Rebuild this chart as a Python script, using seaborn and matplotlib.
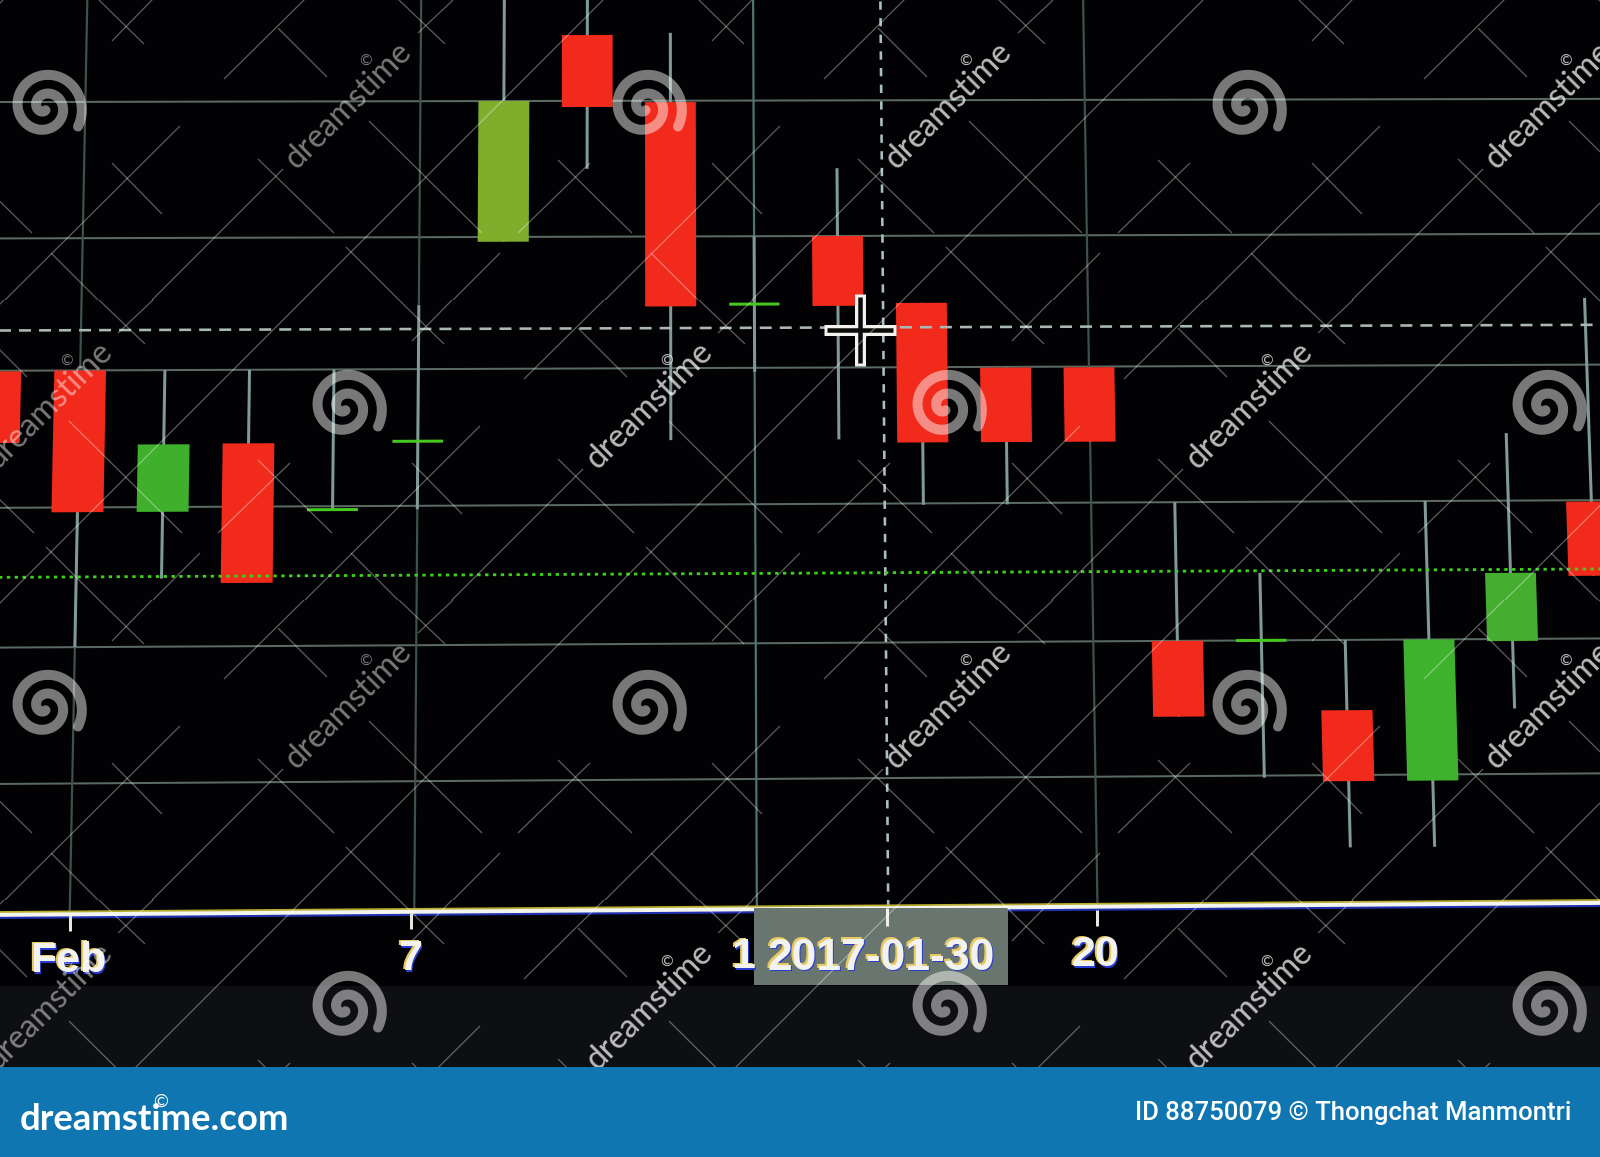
import numpy as np
import pandas as pd
import seaborn as sns
import matplotlib
matplotlib.use("Agg")
import matplotlib.pyplot as plt
from matplotlib.patches import Rectangle
from matplotlib.transforms import Transform

W, H = 1600, 1157

# ---- chart data (session index, price in half-grid units) ----
sessions = list(range(20))
opens  = [6.05, 6.06, 3.98, 4.98, 4, 5, 7.93, 10.97, 9.98, 7, 8, 7.01, 6.05, 6.05, 2, 2, 0.96, -0.09, 1.97, 4.03]
closes = [5, 3.98, 4.97, 2.93, 4, 5, 10, 9.91, 6.97, 7, 6.97, 4.95, 4.95, 4.95, 0.88, 2, -0.09, 2, 2.98, 2.93]
highs  = [6.05, 6.06, 6.06, 6.06, 6.06, 7, 12, 12, 11, 8, 9, 7.01, 6.05, 6.05, 4.05, 3, 2, 4.05, 5.05, 7.05]
lows   = [5, 2, 3, 2.93, 4, 4, 7.93, 9, 5, 6, 5, 4.03, 4.03, 4.95, 0.88, -0.03, -1.07, -1.07, 0.97, 2.93]
up_colors = {2: "#3fb02c", 6: "#7fae2c", 17: "#3eb22c", 18: "#45ad30"}

grid_prices = [0, 2, 4.05, 6.06, 8, 10]
grid_sessions = [1, 5, 9, 13]
axis_price = -1.92
top_price = 11.5
cross_price = 6.65
last_price = 3.03
cross_session = 10.54

tick_labels = ["Feb", "7", "1", "20"]
tick_label_px = [(68, 961), (410, 959), (743, 957), (1095, 955)]
cursor_date = "2017-01-30"
site_text = "dreamstime.com"
credit_text = "ID 88750079 \u00a9 Thongchat Manmontri"


class Keystone(Transform):
    """Slight camera perspective of the photographed screen (display pixels)."""
    input_dims = output_dims = 2
    is_separable = False
    has_inverse = False

    def transform_non_affine(self, values):
        values = np.asarray(values, float)
        x, y = values[:, 0], values[:, 1]
        top = H - y
        u = x / W
        x2 = x + 0.0317 * (x - 632) * (top - 457) / 913 + 22 * u * (1 - u)
        y2 = top - u * (2 + 10 * top / 900)
        return np.column_stack([x2, H - y2])


sns.set_theme(style="dark", rc={"axes.facecolor": "#020204", "figure.facecolor": "#020204"})
fig = plt.figure(figsize=(W / 100, H / 100), dpi=100)
ax = fig.add_axes([0, 0, 1, 1])
ax.set_xlim(0.0774, 19.125)
ax.set_ylim(-5.469, 11.496)
ax.set_axis_off()
warp = ax.transData + Keystone()
PX = 0.72


def segs(pairs):
    rows = []
    for i, (x0, y0, x1, y1) in enumerate(pairs):
        rows += [dict(id=i, x=x0, y=y0), dict(id=i, x=x1, y=y1)]
    return pd.DataFrame(rows)


def draw(pairs, color, lw, z, **kw):
    sns.lineplot(data=segs(pairs), x="x", y="y", units="id", estimator=None, sort=False,
                 color=color, lw=lw * PX, ax=ax, legend=False, transform=warp, zorder=z,
                 solid_capstyle="butt", **kw)


# grid
draw([(-1, p, 21, p) for p in grid_prices], "#5a6a62", 2.0, 1)
draw([(s, axis_price, s, top_price + 1) for s in grid_sessions if s != 9], "#40504a", 2.2, 1)
draw([(9, axis_price, 9, top_price + 1)], "#4f7572", 2.2, 1)

# wicks
wick_pairs = [(s, lo, s, hi) for s, lo, hi in zip(sessions, lows, highs)]
draw(wick_pairs, "#7f9a98", 3.0, 2)

# bodies and dojis
doji_pairs = []
for s, o, c in zip(sessions, opens, closes):
    if o == c:
        doji_pairs.append((s - 0.3, o, s + 0.3, c))
        continue
    col = up_colors.get(s, "#3fb02c") if c > o else "#f12a1b"
    bars = ax.bar(s, abs(c - o), bottom=min(o, c), width=0.61, color=col, linewidth=0, zorder=3)
    for b in bars:
        b.set_transform(warp)
draw(doji_pairs, "#45c81f", 3.0, 3)

# crosshair lines and last-price line
for pairs, col, lw, dash in [
    ([(-1, cross_price, 21, cross_price)], "#a9b8b0", 2.6, (4.6, 3.1)),
    ([(cross_session, axis_price, cross_session, top_price + 1)], "#a9c0c0", 2.6, (3.2, 3.2)),
    ([(-1, last_price, 21, last_price)], "#3cd21a", 2.8, (1.2, 1.6)),
]:
    lines_before = len(ax.lines)
    draw(pairs, col, lw, 4)
    for ln in ax.lines[lines_before:]:
        ln.set_linestyle((0, dash))

# axis baseline with the colour fringes of the screen
for off, col, lw in [(-2.6, "#b8ac30", 2.4), (2.8, "#2030b0", 2.6), (0, "#f4f4ee", 4.0)]:
    draw([(-1, axis_price - off / 68.2, 21, axis_price - off / 68.2)], col, lw, 5)

ax.set_xlim(0.0774, 19.125)
ax.set_ylim(-5.469, 11.496)
ax.set_xlabel("")
ax.set_ylabel("")

# ---- overlay in image pixels: labels, watermark, bottom strip ----
ov = fig.add_axes([0, 0, 1, 1], facecolor="none")
ov.set_xlim(0, W)
ov.set_ylim(H, 0)
ov.set_axis_off()

ov.add_patch(Rectangle((0, 986), W, 81, color="#0e0f13", lw=0, zorder=0))

# axis tick marks
for x, y0, y1 in [(70, 915, 931), (411, 913, 929), (887, 910, 926), (1097, 910, 926)]:
    ov.plot([x, x], [y0, y1], color="#e8e8e0", lw=3 * PX, zorder=6, solid_capstyle="butt")

BOLD = dict(family="Liberation Sans", fontweight="bold", ha="center", va="center", zorder=8)


def screen_text(x, y, s, size):
    ov.text(x + 1.5, y + 1.5, s, color="#2a3cd0", fontsize=size, **BOLD)
    ov.text(x - 1.5, y - 1, s, color="#e8c860", fontsize=size, **BOLD)
    ov.text(x, y, s, color="#f2f2ee", fontsize=size, **BOLD)


ov.add_patch(Rectangle((754, 908), 254, 77, color="#69766f", lw=0, zorder=6.5))
ov.plot([887, 887], [908, 926], color="#f0f0ea", lw=3 * PX, zorder=7, solid_capstyle="butt")
for (x, y), s in zip(tick_label_px, tick_labels):
    screen_text(x, y, s, 31)
screen_text(881, 958, cursor_date, 32)

# mouse cursor
cx, cy = 860, 330
for (x0, y0, x1, y1) in [(cx - 36, cy, cx + 36, cy), (cx, cy - 36, cx, cy + 36)]:
    ov.plot([x0, x1], [y0, y1], color="#f2f2ee", lw=11 * PX, zorder=7, solid_capstyle="butt")
for (x0, y0, x1, y1) in [(cx - 33, cy, cx + 33, cy), (cx, cy - 33, cx, cy + 33)]:
    ov.plot([x0, x1], [y0, y1], color="#0a0a0a", lw=4.5 * PX, zorder=7.1, solid_capstyle="butt")

# watermark: thin crossing strokes repeated on a lattice
strokes = [(112, 41, 152, 0), (99, 0, 144, 44), (224, 79, 304, 0), (278, 28, 327, 77),
           (418, 33, 453, 0), (399, 0, 445, 44), (603, 0, 303, 300), (180, 126, 5, 300),
           (112, 163, 162, 214), (283, 169, 152, 300), (258, 159, 334, 233), (369, 121, 482, 233),
           (51, 253, 98, 300), (346, 247, 399, 300), (558, 160, 632, 233), (590, 163, 518, 233),
           (500, 253, 453, 300)]
for row in range(-1, 4):
    for col in range(-1, 4):
        dx, dy = 600 * col + (300 if row % 2 else 0), 300 * row
        for (x0, y0, x1, y1) in strokes:
            ov.plot([x0 + dx, x1 + dx], [y0 + dy, y1 + dy], color="white", alpha=0.36,
                    lw=0.9, zorder=9, solid_capstyle="butt")

# watermark: spiral emblem and rotated name
turn = np.linspace(-0.17 * np.pi, 3.55 * np.pi, 260)
radius = 27.3 - (turn - np.pi) * 3.0
for row, y in enumerate([104, 404, 704, 1005]):
    for col in range(4):
        x = 50 + 600 * col + (300 if row % 2 else 0)
        if x > W + 60:
            continue
        ov.plot(x - 5 + radius * np.cos(-turn), y + 3 + radius * np.sin(-turn), color="white", alpha=0.47,
                lw=10 * PX, zorder=9, solid_capstyle="round")
        tx = x + 299 if not row % 2 else x - 300
        for t in [tx, tx + 600]:
            ov.text(t, y + 1, "dreamstime", rotation=45, rotation_mode="anchor", ha="center", va="center",
                    color="white", alpha=0.47, fontsize=23, family="Lato", zorder=9)
            ov.text(t + 17, y - 42, "\u00a9", ha="center", va="center", color="white", alpha=0.47,
                    fontsize=11, family="Lato", zorder=9)

# bottom strip
ov.add_patch(Rectangle((0, 1067), W, 90, color="#0f76b1", lw=0, zorder=20))
ov.text(20, 1130, site_text, color="white", fontsize=26.3, family="Lato", fontweight="bold",
        ha="left", va="baseline", zorder=21)
ov.text(161, 1102, "\u00a9", color="white", fontsize=13, family="Lato", ha="center", va="center", zorder=21)
ov.text(1571, 1120, credit_text, color="white", fontsize=18.5, family="Roboto", fontweight="medium",
        ha="right", va="baseline", zorder=21)

fig.savefig("out.png", dpi=100, facecolor=fig.get_facecolor())
